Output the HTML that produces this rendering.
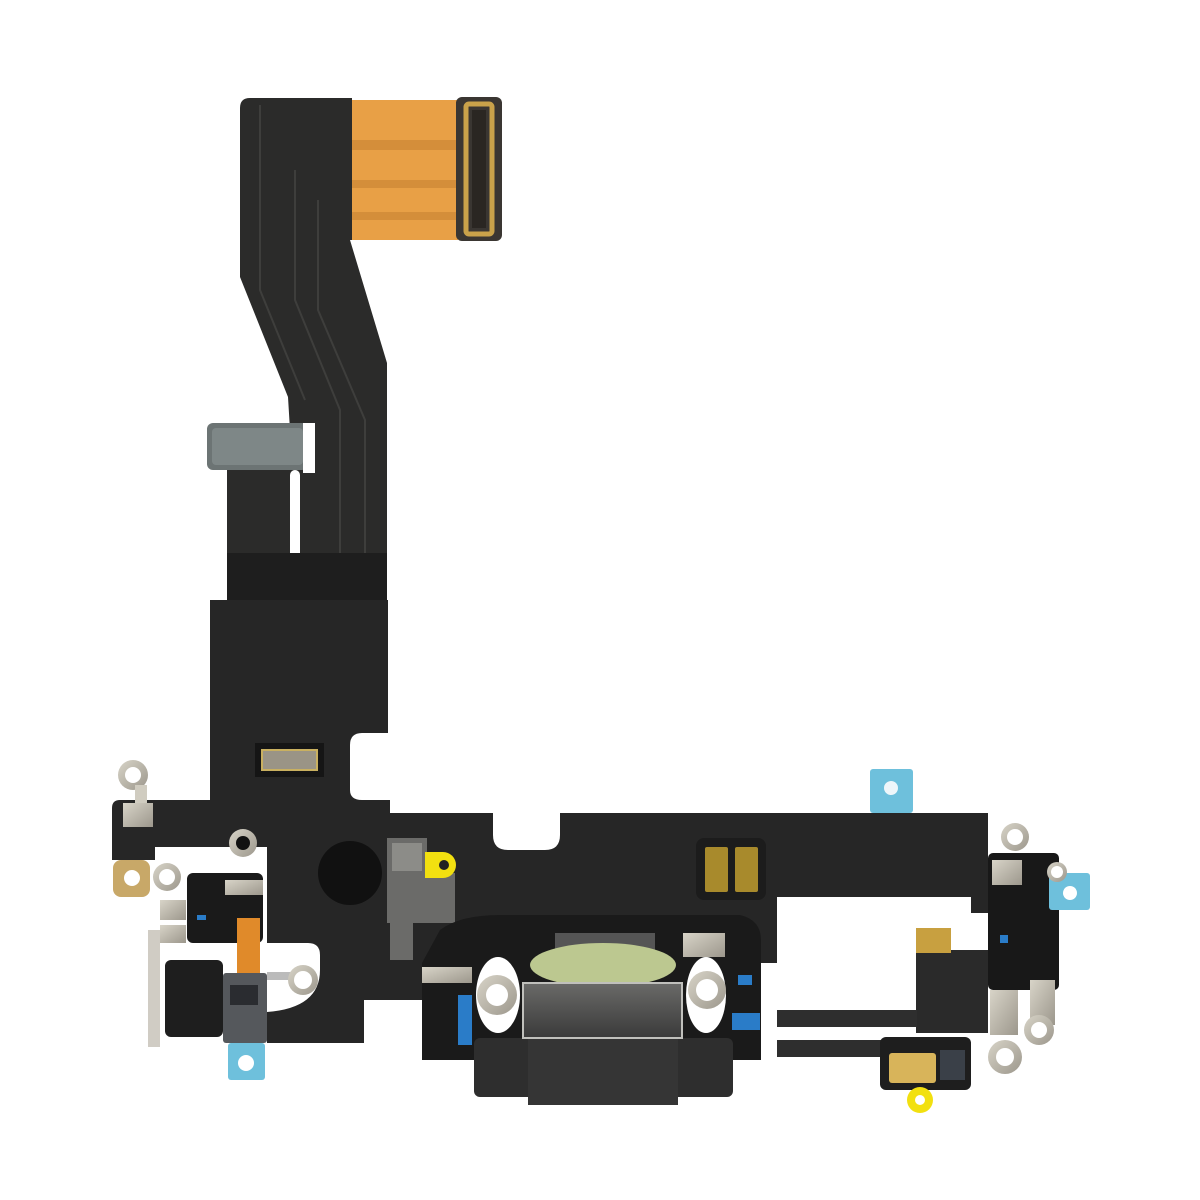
<!DOCTYPE html>
<html><head><meta charset="utf-8"><style>
html,body{margin:0;padding:0;background:#fff;width:1200px;height:1200px;overflow:hidden}
</style></head><body>
<svg width="1200" height="1200" viewBox="0 0 1200 1200" xmlns="http://www.w3.org/2000/svg">
<defs>
<linearGradient id="met" x1="0" y1="0" x2="1" y2="1"><stop offset="0" stop-color="#d8d4c8"/><stop offset="1" stop-color="#9c978c"/></linearGradient>
<linearGradient id="sh" x1="0" y1="0" x2="0" y2="1"><stop offset="0" stop-color="#6a6a68"/><stop offset="1" stop-color="#3a3a3a"/></linearGradient>
</defs>
<rect width="1200" height="1200" fill="#fff"/>
<!-- top flex -->
<path d="M250,98 L352,98 L352,240 L350,240 L387,363 L387,600 L227,600 L227,470 L290,470 L290,430 L288,397 L240,277 L240,108 Q240,98 250,98Z" fill="#2b2b2a"/>
<rect x="352" y="100" width="106" height="140" fill="#e8a046"/>
<rect x="352" y="140" width="106" height="10" fill="#d48e3a"/>
<rect x="352" y="180" width="106" height="8" fill="#d48e3a"/>
<rect x="352" y="212" width="106" height="8" fill="#d48e3a"/>
<rect x="456" y="97" width="46" height="144" rx="6" fill="#3a3632"/>
<rect x="466" y="104" width="26" height="130" rx="3" fill="none" stroke="#c9a24a" stroke-width="5"/>
<rect x="472" y="110" width="14" height="118" fill="#2a2622"/>
<!-- trace lines -->
<path d="M260,105 L260,290 L305,400" stroke="#3e3e3c" stroke-width="2" fill="none"/>
<path d="M295,170 L295,300 L340,410 L340,600" stroke="#3e3e3c" stroke-width="2" fill="none"/>
<path d="M318,200 L318,310 L365,420 L365,600" stroke="#3e3e3c" stroke-width="2" fill="none"/>
<!-- flap -->
<rect x="207" y="423" width="101" height="47" rx="6" fill="#6c7474"/>
<rect x="212" y="428" width="91" height="37" rx="4" fill="#8a9494" opacity="0.6"/>
<rect x="290" y="470" width="10" height="102" rx="5" fill="#fff"/>
<rect x="303" y="423" width="12" height="50" fill="#fff"/>
<rect x="227" y="553" width="160" height="47" fill="#1e1e1e"/>
<!-- main body -->
<path d="M210,600 L388,600 L388,733 L362,733 Q350,733 350,745 L350,790 Q350,800 362,800 L390,800 L390,813 L493,813 L493,835 Q493,850 508,850 L545,850 Q560,850 560,835 L560,813 L988,813 L988,913 L971,913 L971,897 L777,897 L777,963 L761,963 L761,1060 L422,1060 L422,1000 L364,1000 L364,1043 L267,1043 L267,1012 Q320,1008 320,970 L320,955 Q320,943 308,943 L267,943 L267,847 L155,847 L155,860 L112,860 L112,808 Q112,800 120,800 L210,800 Z" fill="#262626"/>
<rect x="916" y="950" width="72" height="83" fill="#2a2a2a"/>
<rect x="777" y="1010" width="140" height="17" fill="#2e2e2e"/>
<rect x="777" y="1040" width="105" height="17" fill="#2e2e2e"/>
<rect x="880" y="1037" width="91" height="53" rx="6" fill="#1e1e1e"/>
<rect x="165" y="960" width="58" height="77" rx="6" fill="#1e1e1e"/>
<!-- small connector -->
<rect x="255" y="743" width="69" height="34" fill="#151515"/>
<rect x="262" y="750" width="55" height="20" fill="#9a9486" stroke="#c9b060" stroke-width="2"/>
<!-- left components -->
<rect x="123" y="803" width="30" height="24" fill="url(#met)"/>
<circle cx="133" cy="775" r="15" fill="url(#met)"/><circle cx="133" cy="775" r="8" fill="#fff"/>
<rect x="135" y="785" width="12" height="18" fill="#d0ccc0"/>
<rect x="113" y="860" width="37" height="37" rx="8" fill="#c8a868"/><circle cx="132" cy="878" r="8" fill="#fff"/>
<circle cx="167" cy="877" r="14" fill="url(#met)"/><circle cx="167" cy="877" r="8" fill="#fff"/>
<rect x="187" y="873" width="76" height="70" rx="6" fill="#1a1a1a"/>
<circle cx="243" cy="843" r="14" fill="url(#met)"/><circle cx="243" cy="843" r="7" fill="#111"/>
<rect x="225" y="880" width="38" height="15" fill="url(#met)"/>
<rect x="160" y="900" width="26" height="20" fill="url(#met)"/>
<rect x="160" y="925" width="26" height="18" fill="url(#met)"/>
<rect x="148" y="930" width="12" height="117" fill="#d0ccc4"/>
<rect x="197" y="915" width="9" height="5" fill="#2a7cc8"/>
<rect x="237" y="918" width="23" height="60" fill="#e08a2a"/>
<rect x="223" y="973" width="44" height="70" rx="3" fill="#55585c"/>
<rect x="230" y="985" width="28" height="20" fill="#2a2c30"/>
<rect x="228" y="1043" width="37" height="37" rx="3" fill="#6ec0dc"/><circle cx="246" cy="1063" r="8" fill="#fff"/>
<rect x="267" y="972" width="25" height="8" fill="#bbb"/>
<circle cx="303" cy="980" r="15" fill="url(#met)"/><circle cx="303" cy="980" r="9" fill="#fff"/>
<!-- speaker & bracket -->
<circle cx="350" cy="873" r="32" fill="#111"/>
<path d="M387,838 L427,838 L427,873 L455,873 L455,923 L413,923 L413,960 L390,960 L390,923 L387,923 Z" fill="#6b6b69"/>
<rect x="392" y="843" width="30" height="28" fill="#8c8c88"/>
<path d="M425,852 L443,852 A13,13 0 1 1 443,878 L425,878 Z" fill="#f2e010"/>
<circle cx="444" cy="865" r="5" fill="#222"/>
<!-- gold pads -->
<rect x="696" y="838" width="70" height="62" rx="8" fill="#1c1c1c"/>
<rect x="705" y="847" width="23" height="45" rx="2" fill="#a88a2c"/>
<rect x="735" y="847" width="23" height="45" rx="2" fill="#a88a2c"/>
<!-- blue top tab -->
<rect x="870" y="769" width="43" height="44" rx="3" fill="#6ec0dc"/><circle cx="891" cy="788" r="7" fill="#eef6fa"/>
<!-- connector area -->
<path d="M422,963 L440,930 Q460,915 500,915 L740,915 Q761,920 761,940 L761,1060 L422,1060Z" fill="#1a1a1a"/>
<ellipse cx="498" cy="995" rx="22" ry="38" fill="#fff"/>
<ellipse cx="706" cy="995" rx="20" ry="38" fill="#fff"/>
<rect x="422" y="967" width="50" height="16" fill="url(#met)"/>
<rect x="683" y="933" width="42" height="24" fill="url(#met)"/>
<circle cx="497" cy="995" r="20" fill="url(#met)"/><circle cx="497" cy="995" r="11" fill="#fff"/>
<circle cx="707" cy="990" r="19" fill="url(#met)"/><circle cx="707" cy="990" r="11" fill="#fff"/>
<rect x="555" y="933" width="100" height="20" fill="#555"/>
<ellipse cx="603" cy="965" rx="73" ry="22" fill="#bcc890"/>
<rect x="474" y="1038" width="259" height="59" rx="6" fill="#2e2e2e"/>
<rect x="528" y="1033" width="150" height="72" fill="#353535"/>
<rect x="523" y="983" width="159" height="55" fill="url(#sh)" stroke="#c0c0bc" stroke-width="2"/>
<rect x="458" y="995" width="14" height="50" fill="#2a7cc8"/>
<rect x="732" y="1013" width="28" height="17" fill="#2a7cc8"/>
<rect x="738" y="975" width="14" height="10" fill="#2a7cc8"/>
<!-- right components -->
<rect x="916" y="928" width="35" height="25" fill="#c8a040"/>
<rect x="988" y="853" width="71" height="137" rx="5" fill="#181818"/>
<rect x="992" y="860" width="30" height="25" fill="url(#met)"/>
<circle cx="1015" cy="837" r="14" fill="url(#met)"/><circle cx="1015" cy="837" r="8" fill="#fff"/>
<rect x="1049" y="873" width="41" height="37" rx="3" fill="#6ec0dc"/><circle cx="1070" cy="893" r="7" fill="#fff"/>
<circle cx="1057" cy="872" r="10" fill="url(#met)"/><circle cx="1057" cy="872" r="6" fill="#fff"/>
<rect x="990" y="990" width="28" height="45" fill="url(#met)"/>
<rect x="1030" y="980" width="25" height="45" fill="url(#met)"/>
<circle cx="1005" cy="1057" r="17" fill="url(#met)"/><circle cx="1005" cy="1057" r="9" fill="#fff"/>
<circle cx="1039" cy="1030" r="15" fill="url(#met)"/><circle cx="1039" cy="1030" r="8" fill="#fff"/>
<rect x="1000" y="935" width="8" height="8" fill="#2a7cc8"/>
<rect x="889" y="1053" width="47" height="30" rx="3" fill="#d8b45a"/>
<rect x="940" y="1050" width="25" height="30" fill="#3a4048"/>
<circle cx="920" cy="1100" r="13" fill="#f2e010"/><circle cx="920" cy="1100" r="5" fill="#fff"/>
</svg>
</body></html>
